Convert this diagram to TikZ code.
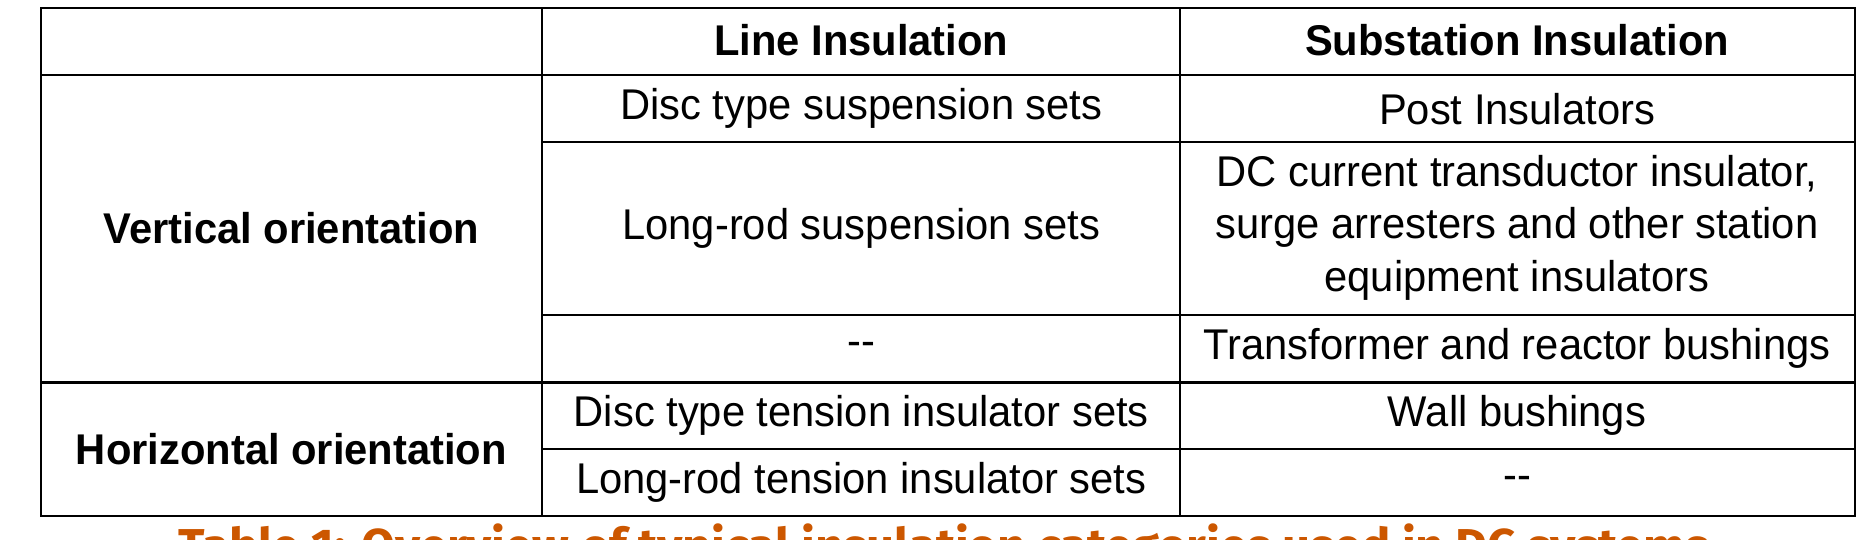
\documentclass[tikz,border=0pt]{standalone}
\usepackage{fontspec}
\setmainfont{Liberation Sans}
\newfontfamily\capfont{Fira Sans}
\newcommand{\sq}[1]{\scalebox{0.97}[1]{#1}}
\begin{document}
\begin{tikzpicture}[x=1pt,y=-1pt,
  cell/.style={align=center,font=\fontsize{36}{44}\selectfont,inner sep=0pt},
  hd/.style={cell,font=\fontsize{36}{44}\selectfont\bfseries},
  ln/.style={line width=1.5pt}]
\useasboundingbox (0,0) rectangle (1568,452);
\clip (0,0) rectangle (1568,452);
\draw[ln] (34,7) rectangle (1553,432);
\draw[ln] (454,7) -- (454,432);
\draw[ln] (988,7) -- (988,432);
\draw[ln] (34,63) -- (1553,63);
\draw[ln] (454,119) -- (1553,119);
\draw[ln] (454,264) -- (1553,264);
\draw[line width=2.2pt] (34,320) -- (1553,320);
\draw[ln] (454,376) -- (1553,376);
\draw[line width=2.2pt] (34,432) -- (1553,432);
\node[hd] (h1) at (721,34) {\sq{Line Insulation}};
\node[hd] (h2) at (1270,34) {\sq{Substation Insulation}};
\node[hd] (v) at (244,191) {\sq{Vertical orientation}};
\node[hd] (h) at (244,376) {\sq{Horizontal orientation}};
\node[cell] (a1) at (721,91) {\sq{Disc type suspension sets}};
\node[cell] (b1) at (1270,91) {\sq{Post Insulators}};
\node[cell] (a2) at (721,191) {\sq{Long-rod suspension sets}};
\node[cell] (b2) at (1270,191) {\sq{\begin{tabular}{@{}c@{}}DC current transductor insulator,\\surge arresters and other station\\equipment insulators\end{tabular}}};
\node[cell] (a3) at (721,292) {\sq{-{}-}};
\node[cell] (b3) at (1270,292) {\sq{Transformer and reactor bushings}};
\node[cell] (a4) at (721,348) {\sq{Disc type tension insulator sets}};
\node[cell] (b4) at (1270,348) {\sq{Wall bushings}};
\node[cell] (a5) at (721,404) {\sq{Long-rod tension insulator sets}};
\node[cell] (b5) at (1270,404) {\sq{-{}-}};
\node[anchor=north,inner sep=0pt,text=orange!85!red!80!black,font=\capfont\bfseries\fontsize{41}{44}\selectfont] (cap) at (790,438) {Table 1: Overview of typical insulation categories used in DC systems};
\end{tikzpicture}
\end{document}
